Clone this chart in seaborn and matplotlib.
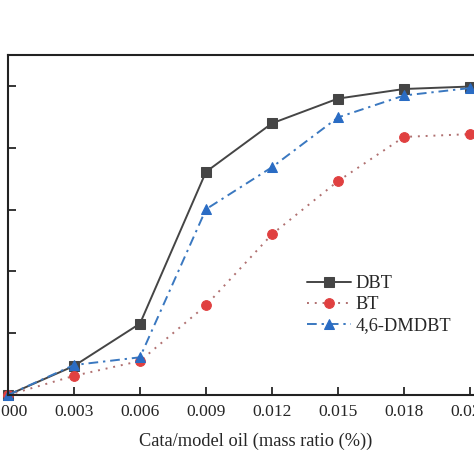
import numpy as np
import pandas as pd
import matplotlib
matplotlib.use("Agg")
import matplotlib.pyplot as plt
import seaborn as sns

# data
ratio = [0.000, 0.003, 0.006, 0.009, 0.012, 0.015, 0.018, 0.021]
dbt = [0.0, 9.4, 23.1, 72.2, 87.9, 95.9, 99.0, 99.8]
bt = [0.0, 6.2, 11.0, 29.0, 52.0, 69.2, 83.5, 84.4]
dmdbt = [0.0, 9.7, 12.2, 60.1, 73.7, 89.8, 96.9, 99.3]
series_names = ["DBT", "BT", "4,6-DMDBT"]
xticks = [0.000, 0.003, 0.006, 0.009, 0.012, 0.015, 0.018, 0.021]
yticks = [0, 20, 40, 60, 80, 100]

df = pd.DataFrame({"ratio": ratio, "DBT": dbt, "BT": bt, "4,6-DMDBT": dmdbt})

sns.set_style("ticks")
plt.rcParams["font.family"] = ["Liberation Serif", "DejaVu Serif"]
plt.rcParams["xtick.direction"] = "in"
plt.rcParams["ytick.direction"] = "in"

fig = plt.figure(figsize=(4.74, 4.74), dpi=100)
ax = fig.add_axes([8 / 474, 79 / 474, 495 / 474, 340 / 474])

styles = {
    "DBT": dict(color="#454545", marker="s", linestyle="-", markersize=6.5, linewidth=1.4),
    "BT": dict(color="#e04040", marker="o", linestyle=(0, (1, 3)), markersize=7, linewidth=1.4),
    "4,6-DMDBT": dict(color="#2a6cc4", marker="^", linestyle=(0, (5, 2.5, 1.2, 2.5)), markersize=7.5, linewidth=1.4),
}
line_colors = {"DBT": "#454545", "BT": "#b07070", "4,6-DMDBT": "#3a78c0"}

for name in series_names:
    st = styles[name]
    sns.lineplot(data=df, x="ratio", y=name, ax=ax, label=name,
                 color=line_colors[name], linestyle=st["linestyle"], linewidth=st["linewidth"],
                 marker=st["marker"], markersize=st["markersize"],
                 markerfacecolor=st["color"], markeredgecolor=st["color"], clip_on=False)

ax.set_xlim(0, 0.0225)
ax.set_ylim(0, 110)
ax.set_xticks(xticks)
ax.set_xticklabels([f"{v:.3f}" for v in xticks], fontsize=12.6)
ax.set_yticks(yticks)
ax.set_yticklabels([])
ax.tick_params(length=6, width=1.3)
ax.tick_params(axis="x", pad=6.5)
ax.set_xlabel("Cata/model oil (mass ratio (%))", fontsize=13.2, labelpad=9)
ax.set_ylabel("")
for sp in ax.spines.values():
    sp.set_linewidth(1.5)
    sp.set_color("#222222")

ax.legend(loc="upper left", bbox_to_anchor=((300 - 8) / 495, (395 - 268) / 340),
          frameon=False, fontsize=13.2, handlelength=2.4, handletextpad=0.25,
          labelspacing=0.22, borderaxespad=0)

fig.savefig("out.png", dpi=100)
